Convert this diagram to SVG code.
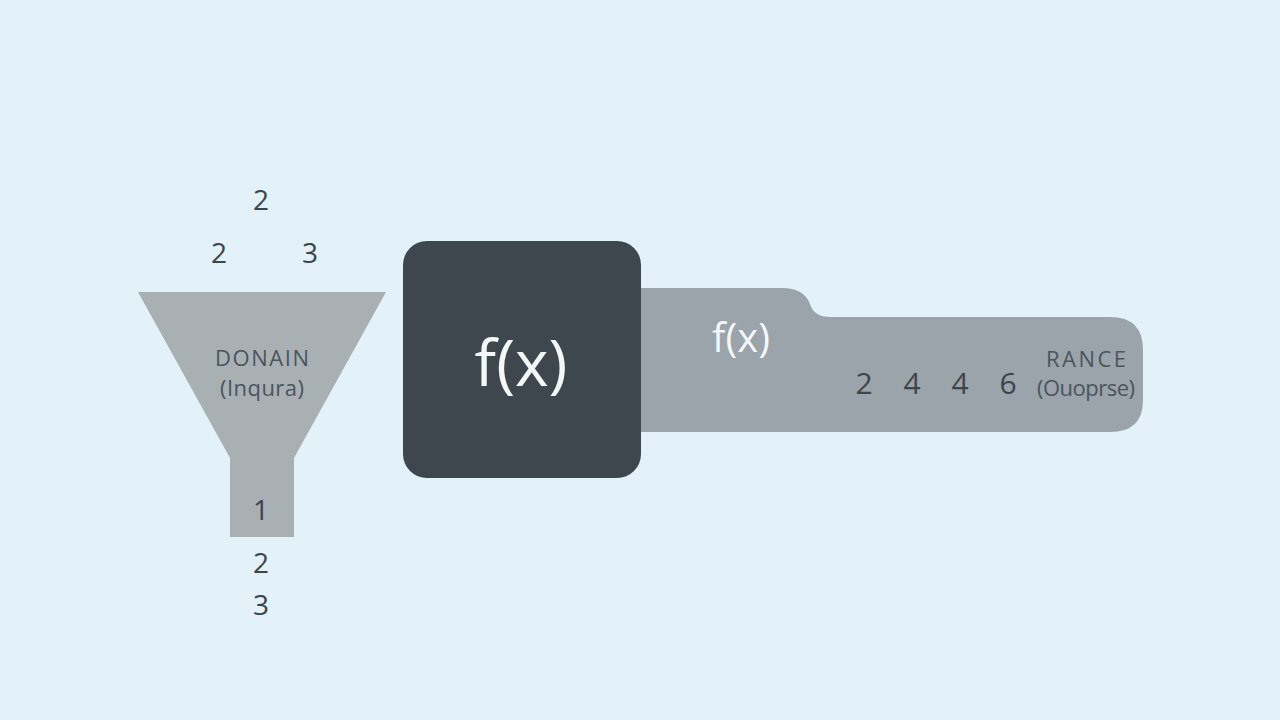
<svg xmlns="http://www.w3.org/2000/svg" width="1280" height="720" viewBox="0 0 1280 720">
<style>
.num{font-family:"Open Sans","Noto Sans",sans-serif;fill:#3b464d;text-anchor:middle}
.lbl{font-family:"Open Sans","Noto Sans",sans-serif;fill:#4a555c;text-anchor:middle;font-size:22px}
.fx{font-family:"Open Sans","Noto Sans",sans-serif;fill:#f4f7f8;text-anchor:middle}
</style>
<rect width="1280" height="720" fill="#e3f1f9"/>
<g id="range-tab">
<path d="M 630 288 L 782 288 Q 804 288 810 304 Q 814 317 830 317 L 1110 317 Q 1143 317 1143 350 L 1143 400 Q 1143 432 1110 432 L 630 432 Z" fill="#9aa4aa"/>
<text class="fx" x="741" y="352" font-size="40">f(x)</text>
<text class="num" x="864" y="394" font-size="30">2</text>
<text class="num" x="912" y="394" font-size="30">4</text>
<text class="num" x="960" y="394" font-size="30">4</text>
<text class="num" x="1008" y="394" font-size="30">6</text>
<text class="lbl" x="1086" y="367" textLength="80">RANCE</text>
<text class="lbl" x="1086" y="396" textLength="98">(Ouoprse)</text>
</g>
<g id="domain-funnel">
<path d="M 138 292 L 386 292 L 294 458 L 294 537 L 230 537 L 230 458 Z" fill="#a9b0b4"/>
<text class="lbl" x="262" y="366" textLength="94">DONAIN</text>
<text class="lbl" x="262" y="396" textLength="84">(Inqura)</text>
<text class="num" x="261" y="520" font-size="28">1</text>
</g>
<g id="inputs">
<text class="num" x="261" y="210" font-size="28">2</text>
<text class="num" x="219" y="263" font-size="28">2</text>
<text class="num" x="310" y="263" font-size="28">3</text>
<text class="num" x="261" y="573" font-size="28">2</text>
<text class="num" x="261" y="615" font-size="28">3</text>
</g>
<g id="function-box">
<rect x="403" y="241" width="238" height="237" rx="24" fill="#3d474d"/>
<text class="fx" x="521" y="386" font-size="64">f(x)</text>
</g>
<g id="connectors"></g>
</svg>
